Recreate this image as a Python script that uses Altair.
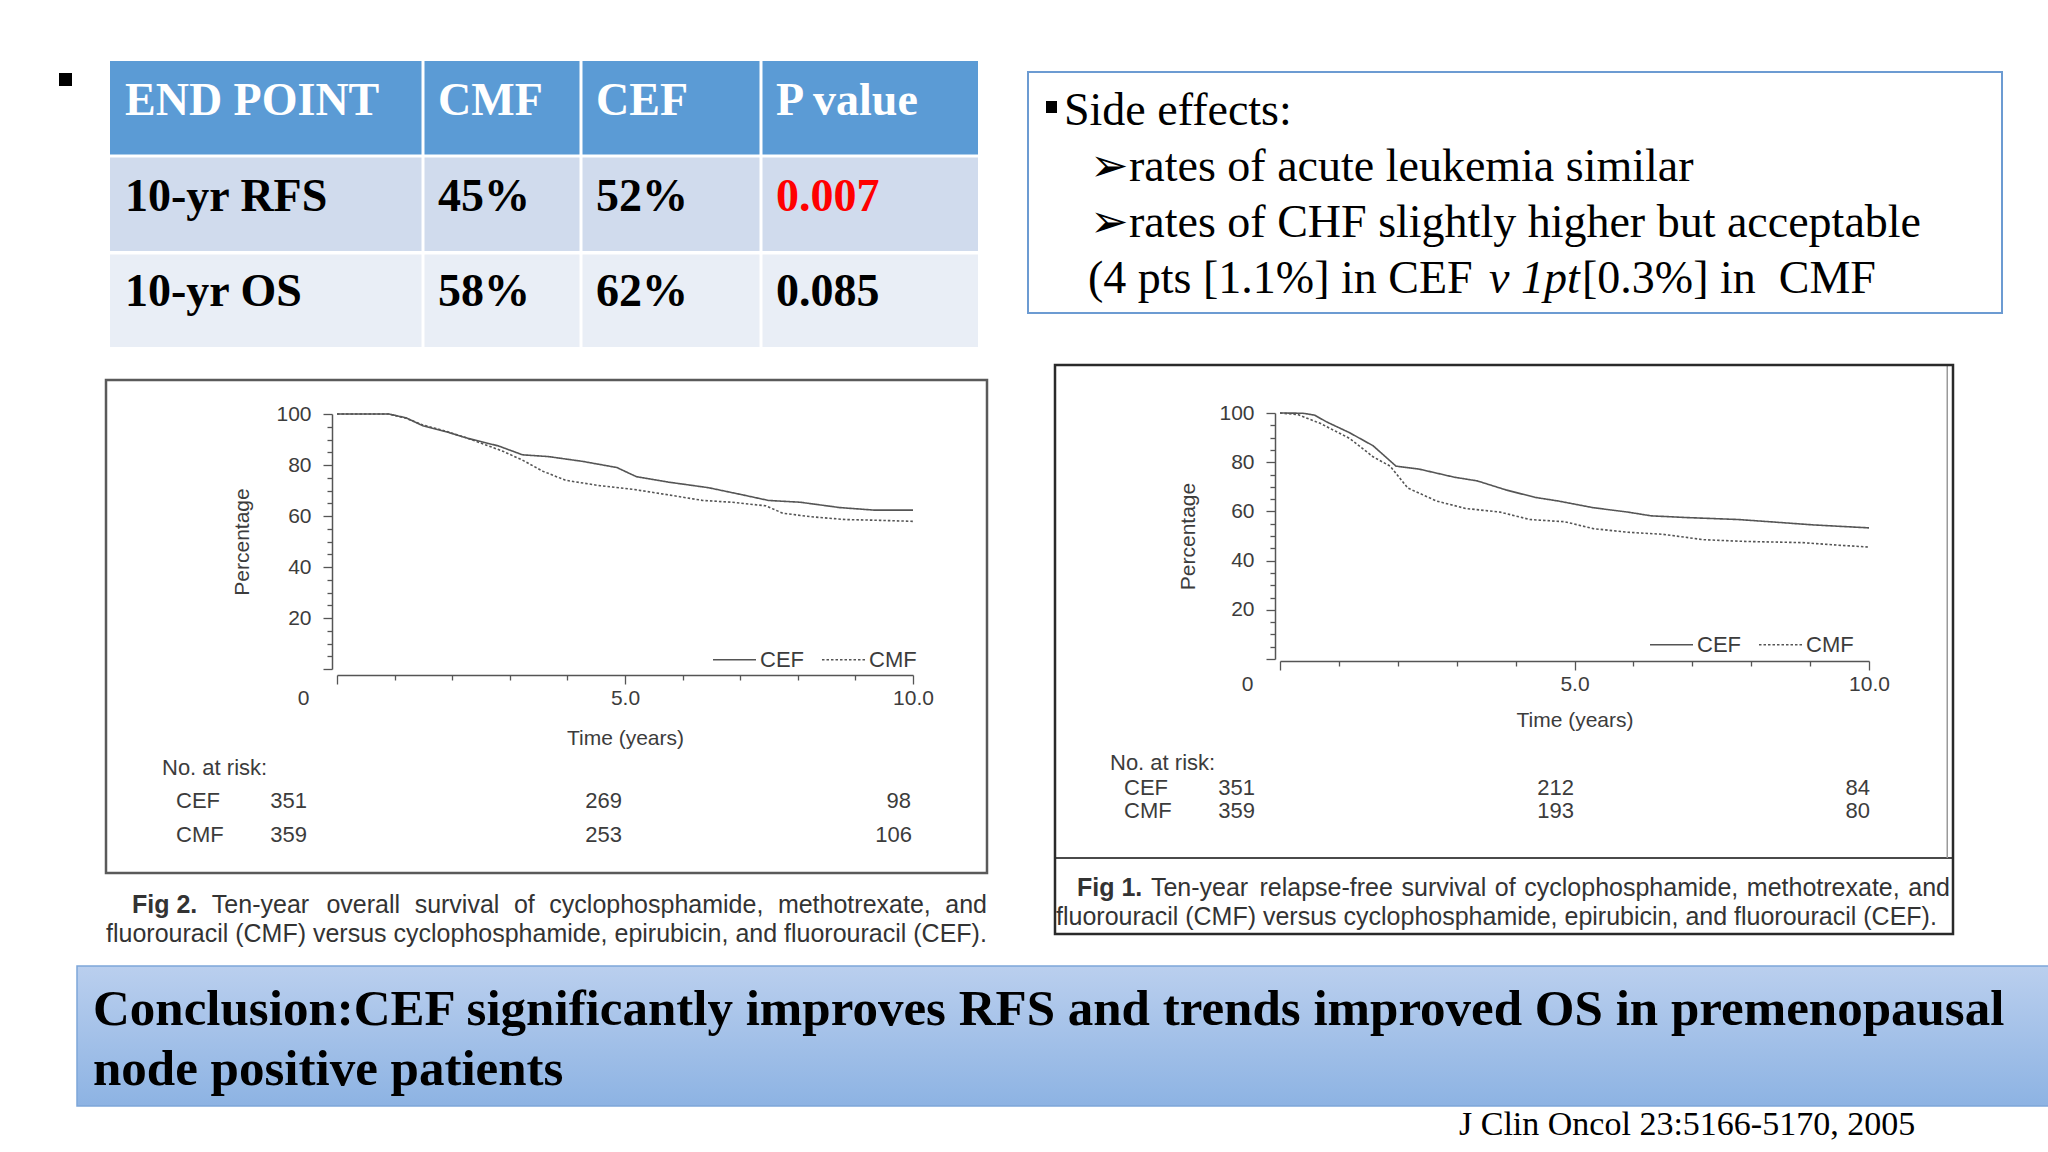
import altair as alt
import pandas as pd

W, H = 2048, 1152
SERIF = "Liberation Serif, Times New Roman, serif"
SANS = "Liberation Sans, Arial, Helvetica, sans-serif"

# ---------------- data ----------------
table_header = ["END POINT", "CMF", "CEF", "P value"]
rfs_row = ["10-yr RFS", "45%", "52%", "0.007"]
os_row = ["10-yr OS", "58%", "62%", "0.085"]

side_effect_lines = [
    "Side effects:",
    "\u27a2rates of acute leukemia similar",
    "\u27a2rates of CHF slightly higher but acceptable",
]
chf_note = ["(4 pts [1.1%] in CEF", "v 1pt", "[0.3%] in\u00a0\u00a0CMF"]

conclusion_lines = [
    "Conclusion:CEF significantly improves RFS and trends improved OS in premenopausal",
    "node positive patients",
]
citation = "J Clin Oncol 23:5166-5170, 2005"

arms = ["CEF", "CMF"]

# overall survival (Fig 2), years / percent
os_cef_years = [0, 0.9, 1.2, 1.49, 1.9, 2.28, 2.8, 3.22, 3.67, 4.27, 4.86, 5.2, 5.75, 6.45, 7.04, 7.49, 8.04, 8.73, 9.33, 10.0]
os_cef_pct = [100, 100, 98.5, 95.4, 93.0, 90.4, 87.5, 84.0, 83.3, 81.4, 79.0, 75.4, 73.3, 71.1, 68.3, 66.1, 65.4, 63.3, 62.3, 62.3]
os_cmf_years = [0, 0.9, 1.2, 1.49, 1.9, 2.28, 2.88, 3.22, 3.57, 3.97, 4.56, 5.16, 5.75, 6.35, 6.85, 7.44, 7.74, 8.23, 8.83, 9.42, 10.0]
os_cmf_pct = [100, 100, 98.3, 95.7, 93.2, 90.4, 85.4, 81.9, 77.6, 74.0, 71.9, 70.4, 68.3, 66.1, 65.4, 64.0, 61.1, 59.7, 58.6, 58.3, 57.9]

# relapse-free survival (Fig 1), years / percent
rfs_cef_years = [0, 0.39, 0.59, 0.79, 1.18, 1.58, 1.97, 2.36, 2.96, 3.35, 3.84, 4.33, 4.73, 5.32, 5.91, 6.3, 6.9, 7.78, 8.37, 9.06, 10.0]
rfs_cef_pct = [100, 99.9, 99.1, 96.4, 92.0, 86.7, 78.4, 77.2, 73.9, 72.4, 68.7, 65.7, 64.2, 61.5, 59.7, 58.2, 57.5, 56.7, 55.7, 54.5, 53.3]
rfs_cmf_years = [0, 0.3, 0.69, 1.18, 1.58, 1.87, 2.17, 2.66, 3.15, 3.74, 4.24, 4.83, 5.32, 5.91, 6.5, 7.19, 7.88, 8.87, 9.46, 10.0]
rfs_cmf_pct = [100, 99.4, 95.7, 89.7, 82.2, 78.4, 69.5, 64.2, 61.2, 59.7, 56.7, 55.8, 53.0, 51.5, 50.7, 48.5, 47.8, 47.3, 46.3, 45.5]

# numbers at risk at 0, 5 and 10 years
os_risk_cef = ["351", "269", "98"]
os_risk_cmf = ["359", "253", "106"]
rfs_risk_cef = ["351", "212", "84"]
rfs_risk_cmf = ["359", "193", "80"]

fig2_caption = ["Fig 2.", "Ten-year overall survival of cyclophosphamide, methotrexate, and",
                "fluorouracil (CMF) versus cyclophosphamide, epirubicin, and fluorouracil (CEF)."]
fig1_caption = ["Fig 1.", "Ten-year relapse-free survival of cyclophosphamide, methotrexate, and",
                "fluorouracil (CMF) versus cyclophosphamide, epirubicin, and fluorouracil (CEF)."]

# ---------------- page scales ----------------
PX = alt.Scale(domain=[0, W], range=[0, W], nice=False, zero=False)
PY = alt.Scale(domain=[0, H], range=[0, H], nice=False, zero=False)


def fills(df, **mark):
    return alt.Chart(df).mark_rect(**mark).encode(
        x=alt.X("x0:Q", scale=PX, axis=None), x2="x1:Q",
        y=alt.Y("y0:Q", scale=PY, axis=None), y2="y1:Q",
        fill=alt.Fill("fill:N", scale=None),
    )


def frames(df):
    return alt.Chart(df).mark_rect(fillOpacity=0).encode(
        x=alt.X("x0:Q", scale=PX, axis=None), x2="x1:Q",
        y=alt.Y("y0:Q", scale=PY, axis=None), y2="y1:Q",
        stroke=alt.Stroke("stroke:N", scale=None),
        strokeWidth=alt.StrokeWidth("sw:Q", scale=None),
    )


def texts(rows, **mark):
    df = pd.DataFrame(rows)
    if "color" not in df:
        df["color"] = "#000000"
    return alt.Chart(df).mark_text(**mark).encode(
        x=alt.X("x:Q", scale=PX, axis=None),
        y=alt.Y("y:Q", scale=PY, axis=None),
        text="text:N",
        color=alt.Color("color:N", scale=None),
    )


# Helvetica advance widths (1/1000 em), used to justify caption lines
HELV = dict(zip("abcdefghijklmnopqrstuvwxyz",
                [556, 556, 500, 556, 556, 278, 556, 556, 222, 222, 500, 222, 833,
                 556, 556, 556, 556, 333, 500, 278, 556, 500, 722, 500, 500, 500]))
HELV.update({" ": 278, ",": 278, ".": 278, "-": 333, "(": 333, ")": 333,
             "T": 611, "C": 722, "M": 833, "F": 611, "E": 667, "1": 556, "2": 556})
HELV_BOLD = {"F": 611, "i": 278, "g": 611, " ": 278, "1": 556, "2": 556, ".": 278}


def text_w(s, size, bold=False):
    table = HELV_BOLD if bold else HELV
    return sum(table.get(c, 556) for c in s) * size / 1000.0


def caption(parts, x0, x1, x_line2, y1, y2, size):
    head, line1, line2 = parts
    words = [head] + line1.split(" ")
    widths = [text_w(head, size, True)] + [text_w(w, size) for w in words[1:]]
    gap = (x1 - x0 - sum(widths)) / (len(words) - 1)
    bold, regular = [], []
    x = x0
    for i, (w, wd) in enumerate(zip(words, widths)):
        (bold if i == 0 else regular).append({"x": x, "y": y1, "text": w, "color": "#333333"})
        x += wd + gap
    regular.append({"x": x_line2, "y": y2, "text": line2, "color": "#333333"})
    return bold, regular


# ---------------- summary table ----------------
col_edges = [110, 423, 581, 761, 978]
row_spans = [(61, 154.5), (157.5, 251), (254.5, 347)]
row_fills = ["#5B9BD5", "#D0DBED", "#E9EEF6"]
cells = []
for (r0, r1), f in zip(row_spans, row_fills):
    for i in range(4):
        cells.append({"x0": col_edges[i] + (1.5 if i > 0 else 0),
                      "x1": col_edges[i + 1] - (1.5 if i < 3 else 0),
                      "y0": r0, "y1": r1, "fill": f})
# bullets
cells.append({"x0": 59, "x1": 72, "y0": 73, "y1": 86, "fill": "#000000"})
cells.append({"x0": 1046, "x1": 1057, "y0": 101, "y1": 113, "fill": "#000000"})
# thin rules of the Fig 1 panel
cells.append({"x0": 1055, "x1": 1953, "y0": 857, "y1": 859, "fill": "#4a4a4a"})
cells.append({"x0": 1946.5, "x1": 1948, "y0": 366, "y1": 858, "fill": "#9a9a9a"})
cells_df = pd.DataFrame(cells)

frames_df = pd.DataFrame([
    {"x0": 1028, "x1": 2002, "y0": 72, "y1": 313, "stroke": "#6C9BD2", "sw": 2},
    {"x0": 106, "x1": 987, "y0": 380, "y1": 873, "stroke": "#5a5a5a", "sw": 2.5},
    {"x0": 1055, "x1": 1953, "y0": 365, "y1": 934, "stroke": "#2a2a2a", "sw": 2.5},
])

text_x = [c + 15 for c in col_edges[:4]]
row_y = [115, 211, 306]
header_txt = [{"x": x, "y": row_y[0], "text": t, "color": "#FFFFFF"} for x, t in zip(text_x, table_header)]
body_txt = []
for y, row in zip(row_y[1:], [rfs_row, os_row]):
    for j, (x, t) in enumerate(zip(text_x, row)):
        red = (row is rfs_row and j == 3)
        body_txt.append({"x": x, "y": y, "text": t, "color": "#FF0000" if red else "#000000"})

side_txt = [
    {"x": 1064, "y": 125, "text": side_effect_lines[0]},
    {"x": 1090, "y": 181, "text": side_effect_lines[1]},
    {"x": 1090, "y": 237, "text": side_effect_lines[2]},
    {"x": 1088, "y": 293, "text": chf_note[0]},
    {"x": 1582, "y": 293, "text": chf_note[2]},
]
side_italic = [{"x": 1489, "y": 293, "text": chf_note[1]}]

concl_txt = [{"x": 93, "y": 1025, "text": conclusion_lines[0]},
             {"x": 93, "y": 1085, "text": conclusion_lines[1]}]
cite_txt = [{"x": 1459, "y": 1135, "text": citation}]

# numbers-at-risk blocks
risk_left = [{"x": 162, "y": 768, "text": "No. at risk:"},
             {"x": 176, "y": 801, "text": arms[0]}, {"x": 176, "y": 835, "text": arms[1]},
             {"x": 1110, "y": 763, "text": "No. at risk:"},
             {"x": 1124, "y": 788, "text": arms[0]}, {"x": 1124, "y": 811, "text": arms[1]}]
for c in risk_left:
    c["color"] = "#3c3c3c"
risk_right = []
for xs, y, vals in [([307, 622, 911], 801, os_risk_cef), ([307, 622, 912], 835, os_risk_cmf),
                    ([1255, 1574, 1870], 788, rfs_risk_cef), ([1255, 1574, 1870], 811, rfs_risk_cmf)]:
    for x, v in zip(xs, vals):
        risk_right.append({"x": x, "y": y, "text": v, "color": "#3c3c3c"})

cap2_bold, cap2_reg = caption(fig2_caption, 132, 987, 106, 905, 934, 25)
cap1_bold, cap1_reg = caption(fig1_caption, 1077, 1950, 1056, 888, 917, 25)

gradient = alt.Gradient(
    gradient="linear",
    stops=[alt.GradientStop(color="#BACFEE", offset=0), alt.GradientStop(color="#8DB3E3", offset=1)],
    x1=0, x2=0, y1=0, y2=1,
)
concl_box = alt.Chart(pd.DataFrame([{"x0": 77, "x1": 2050, "y0": 966, "y1": 1106}])).mark_rect(
    fill=gradient, stroke="#7EA6D9", strokeWidth=1.5
).encode(
    x=alt.X("x0:Q", scale=PX, axis=None), x2="x1:Q",
    y=alt.Y("y0:Q", scale=PY, axis=None), y2="y1:Q",
)

page = alt.layer(
    fills(cells_df),
    frames(frames_df),
    concl_box,
    texts(header_txt, font=SERIF, fontSize=46, fontWeight="bold", align="left", baseline="alphabetic"),
    texts(body_txt, font=SERIF, fontSize=46, fontWeight="bold", align="left", baseline="alphabetic"),
    texts(side_txt, font=SERIF, fontSize=46, align="left", baseline="alphabetic"),
    texts(side_italic, font=SERIF, fontSize=46, fontStyle="italic", align="left", baseline="alphabetic"),
    texts(concl_txt, font=SERIF, fontSize=51, fontWeight="bold", align="left", baseline="alphabetic"),
    texts(cite_txt, font=SERIF, fontSize=34, align="left", baseline="alphabetic"),
    texts(risk_left, font=SANS, fontSize=22, align="left", baseline="middle"),
    texts(risk_right, font=SANS, fontSize=22, align="right", baseline="middle"),
    texts(cap2_bold + cap1_bold, font=SANS, fontSize=25, fontWeight="bold", align="left", baseline="middle"),
    texts(cap2_reg + cap1_reg, font=SANS, fontSize=25, align="left", baseline="middle"),
)

# ---------------- survival curves ----------------
AX = dict(domainColor="#555555", domainWidth=1.5, tickColor="#555555", tickWidth=1.3,
          labelColor="#3c3c3c", labelFont=SANS, labelFontSize=21,
          titleColor="#3c3c3c", titleFont=SANS, titleFontSize=21, titleFontWeight="normal",
          grid=False)


def curves(cef_t, cef_v, cmf_t, cmf_v):
    return pd.DataFrame({
        "years": cef_t + cmf_t,
        "pct": cef_v + cmf_v,
        "arm": [arms[0]] * len(cef_t) + [arms[1]] * len(cmf_t),
    })


def km(df, xr, yr, x_axis_y, y_axis_x, ytitle_dx, xtitle_dy, zero_dx, legend_x, legend_y):
    x_axis = alt.Axis(
        orient="bottom", offset=x_axis_y - H, values=list(range(11)),
        labelExpr="datum.value === 5 ? '5.0' : datum.value === 10 ? '10.0' : datum.value === 0 ? '0' : ''",
        tickSize={"condition": {"test": "datum.value % 5 === 0", "value": 9}, "value": 5},
        labelOffset={"condition": {"test": "datum.value === 0", "value": zero_dx}, "value": 0},
        labelPadding=3, labelFlush=False, labelOverlap=False,
        title="Time (years)", titleY=xtitle_dy, titleBaseline="middle", **AX,
    )
    y_axis = alt.Axis(
        orient="left", offset=-y_axis_x, values=list(range(0, 101, 5)),
        labelExpr="datum.value % 20 === 0 && datum.value > 0 ? datum.label : ''",
        tickSize={"condition": {"test": "datum.value % 20 === 0", "value": 9}, "value": 5},
        labelPadding=12, labelFlush=False, labelOverlap=False,
        title="Percentage", titleX=ytitle_dx, titleAngle=270, titleBaseline="middle", titleAlign="center",
        **AX,
    )
    legend = alt.Legend(
        orient="none", legendX=legend_x, legendY=legend_y, direction="horizontal", title=None,
        symbolType="stroke", symbolSize=1850, symbolStrokeWidth=1.6, symbolStrokeColor="#555555",
        labelFont=SANS, labelFontSize=22, labelColor="#3c3c3c", labelOffset=3, columnPadding=14,
        padding=0,
    )
    return alt.Chart(df).mark_line(strokeWidth=1.6, color="#555555").encode(
        x=alt.X("years:Q", scale=alt.Scale(domain=[0, 10], range=xr, nice=False, zero=False), axis=x_axis),
        y=alt.Y("pct:Q", scale=alt.Scale(domain=[0, 100], range=yr, nice=False, zero=False), axis=y_axis),
        strokeDash=alt.StrokeDash("arm:N", scale=alt.Scale(domain=arms, range=[[1, 0], [2.5, 2]]), legend=legend),
    )


os_chart = km(curves(os_cef_years, os_cef_pct, os_cmf_years, os_cmf_pct),
              xr=[337, 913], yr=[669, 414], x_axis_y=675, y_axis_x=332,
              ytitle_dx=-90, xtitle_dy=63, zero_dx=-34, legend_x=712, legend_y=637)
rfs_chart = km(curves(rfs_cef_years, rfs_cef_pct, rfs_cmf_years, rfs_cmf_pct),
               xr=[1280, 1869], yr=[659, 413], x_axis_y=661, y_axis_x=1275,
               ytitle_dx=-87, xtitle_dy=59, zero_dx=-33, legend_x=1649, legend_y=622)

chart = alt.layer(page, os_chart, rfs_chart).resolve_scale(
    x="independent", y="independent", strokeDash="independent"
).resolve_axis(
    x="independent", y="independent"
).resolve_legend(
    strokeDash="independent"
).properties(
    width=W, height=H, padding=0, background="white",
    autosize=alt.AutoSizeParams(type="none"),
).configure_view(stroke=None)

chart.save("out.html", embed_options={"renderer": "svg", "actions": False})
